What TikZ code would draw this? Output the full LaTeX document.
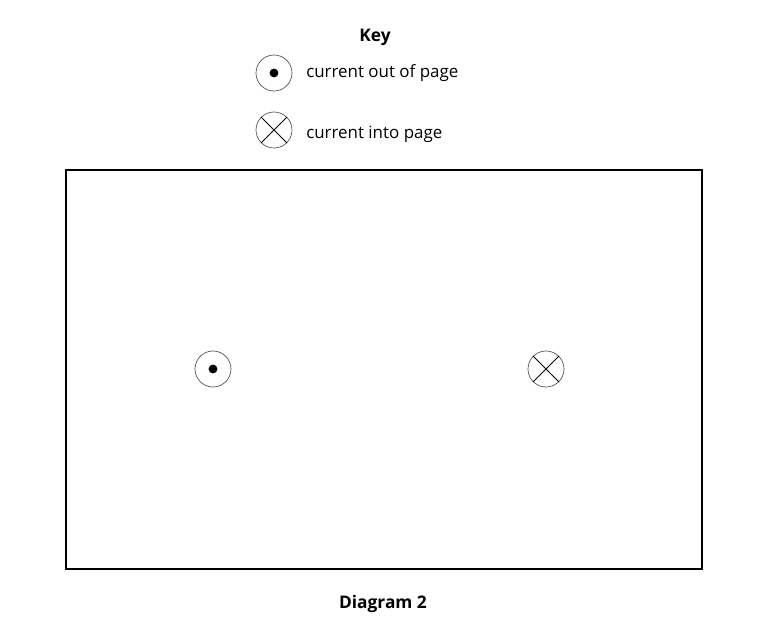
\documentclass[tikz,border=0pt]{standalone}
\usepackage{fontspec}
\setmainfont{Open Sans}
\usepackage{tikz}

\begin{document}
\begin{tikzpicture}[x = 0.75pt, y = -0.75pt, font = \fontsize{12.7}{14}\selectfont,
		wire/.style = {circle, draw = black!70, line width = 0.5pt, minimum size = 27pt, inner sep = 0pt},
		keytext/.style = {anchor = west, inner sep = 0pt}]
		\def\mylinewidth{0.7pt}
		\def\dotsize{3.3pt}
		%--------------------
		\useasboundingbox (0,0) rectangle (768,627);

		\node[font = \fontsize{13}{15}\selectfont\bfseries] (keytitle) at (375, 37) {Key};

		\node[wire] (keyout) at (274, 73) {};
		\fill[black] (keyout.center) circle (\dotsize);
		\node[keytext] (keyouttext) at (306, 73) {current out of page};

		\node[wire] (keyin) at (274, 130) {};
		\draw[line width = \mylinewidth] (keyin.north west) -- (keyin.south east);
		\draw[line width = \mylinewidth] (keyin.north east) -- (keyin.south west);
		\node[keytext] (keyintext) at (306, 134) {current into page};

		%--------------------
		\draw[line width = 0.9pt] (66, 170) rectangle (702, 569);

		\node[wire] (wireout) at (213, 369) {};
		\fill[black] (wireout.center) circle (\dotsize);

		\node[wire] (wirein) at (546, 369) {};
		\draw[line width = \mylinewidth] (wirein.north west) -- (wirein.south east);
		\draw[line width = \mylinewidth] (wirein.north east) -- (wirein.south west);

		\node[font = \fontsize{13}{15}\selectfont\bfseries] (caption) at (383, 604) {Diagram 2};
    \end{tikzpicture}
\end{document}
